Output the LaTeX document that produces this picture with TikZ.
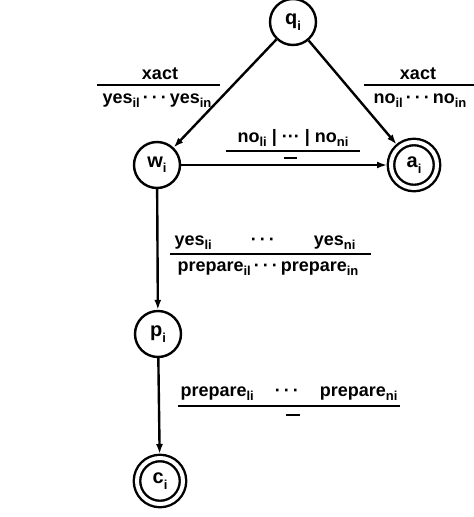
\documentclass[tikz,border=0pt]{standalone}
\usepackage{fontspec}
\setmainfont{Liberation Sans}
\usetikzlibrary{arrows.meta}
\newcommand{\sub}[1]{\raisebox{-0.5ex}{\fontsize{13}{13}\selectfont #1}}
\newcommand{\dts}{\,·\,·\,·\,}
\begin{document}
\begin{tikzpicture}[x=1pt,y=-1pt,
  font=\fontsize{18}{20}\selectfont\bfseries,
  line width=2.4pt,
  >={Latex[length=10pt,width=7pt]},
  state/.style={circle,draw,minimum size=46pt,inner sep=0pt,font=\fontsize{20}{22}\selectfont\bfseries},
  accept/.style={state,double,double distance=4pt,outer sep=4pt},
  lbl/.style={inner sep=0pt,anchor=base},
  bar/.style={line width=2.4pt}]
\useasboundingbox (0,0) rectangle (474,517);
\node[state] (q) at (293,22) {q\sub{i}};
\node[state] (w) at (157,165) {w\sub{i}};
\node[accept] (a) at (414,165) {a\sub{i}};
\node[state] (p) at (158,334) {p\sub{i}};
\node[accept] (c) at (160,481) {c\sub{i}};

\draw[->] (q) -- (w);
\draw[->] (q) -- (a);
\draw[->] (w) -- (a);
\draw[->] (w) -- (p);
\draw[->] (p) -- (c);

% label q -> w
\node[lbl] (l1n) at (160,79) {xact};
\coordinate (l1a) at (97,85);
\coordinate (l1b) at (220,85);
\draw[bar] (l1a) -- (l1b);
\node[lbl] (l1d) at (157,103) {yes\sub{il}\dts yes\sub{in}};

% label q -> a
\node[lbl] (l2n) at (418,79) {xact};
\coordinate (l2a) at (364,85);
\coordinate (l2b) at (474,85);
\draw[bar] (l2a) -- (l2b);
\node[lbl] (l2d) at (420,103) {no\sub{il}\dts no\sub{in}};

% label w -> a
\node[lbl] (l3n) at (293,142) {no\sub{li} | \textperiodcentered\textperiodcentered\textperiodcentered{} | no\sub{ni}};
\coordinate (l3a) at (226,151);
\coordinate (l3b) at (360,151);
\draw[bar] (l3a) -- (l3b);
\coordinate (l3c) at (284,158);
\coordinate (l3d) at (297,158);
\draw[bar] (l3c) -- (l3d);

% label w -> p
\node[lbl] (l4n) at (265,245) {yes\sub{li}\hspace{2em}\dts\hspace{2em}yes\sub{ni}};
\coordinate (l4a) at (170,254);
\coordinate (l4b) at (371,254);
\draw[bar] (l4a) -- (l4b);
\node[lbl] (l4d) at (268,271) {prepare\sub{il}\dts prepare\sub{in}};

% label p -> c
\node[lbl] (l5n) at (289,396) {prepare\sub{li}\quad\dts\quad prepare\sub{ni}};
\coordinate (l5a) at (178,406);
\coordinate (l5b) at (400,406);
\draw[bar] (l5a) -- (l5b);
\coordinate (l5c) at (286,415);
\coordinate (l5d) at (300,415);
\draw[bar] (l5c) -- (l5d);
\end{tikzpicture}
\end{document}
